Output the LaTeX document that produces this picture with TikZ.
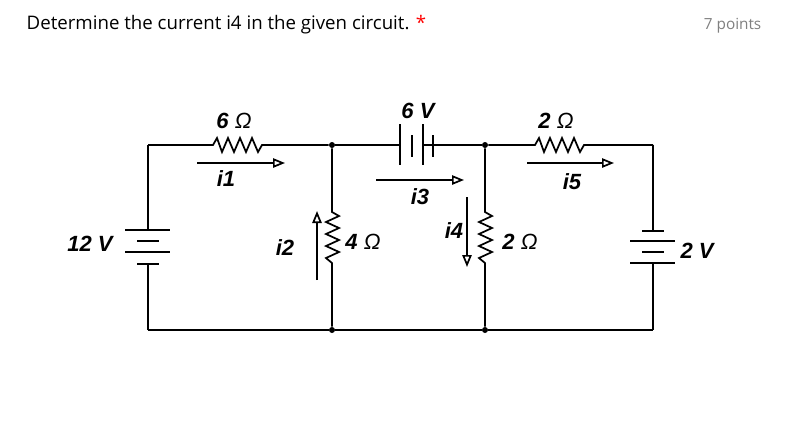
\documentclass[tikz,border=0pt]{standalone}
\usepackage{fontspec}
\setmainfont{Liberation Sans}
\newfontfamily\titlefont{Open Sans}
\usetikzlibrary{arrows.meta}
\tikzstyle{wire}=[line width=1.3pt]
\tikzstyle{lbl}=[font=\bfseries\itshape\fontsize{16.5}{16}\selectfont,inner sep=0pt]
\tikzstyle{cur}=[line width=1.3pt,-{Triangle[open,length=9pt,width=7pt]}]
\tikzstyle{dot}=[circle,fill=black,inner sep=0pt,minimum size=4.5pt]

\begin{document}
\begin{tikzpicture}[x=0.75pt,y=-0.75pt]
    \useasboundingbox[fill=white] (0,0) rectangle (806,430);
    \node (title)[anchor=west,font=\titlefont\fontsize{14}{14}\selectfont] at (22,25) {Determine the current i4 in the given circuit. \textcolor{red}{*}};
    \node (pts)[anchor=east,text=gray,font=\titlefont\fontsize{11.5}{12}\selectfont] at (766,26) {7 points};
    % corners and junctions
    \coordinate (tl) at (148,145);
    \coordinate (bl) at (148,330);
    \coordinate (tr) at (653,145);
    \coordinate (br) at (653,330);
    \node (ja)[dot] at (332,145) {};
    \node (jb)[dot] at (485,145) {};
    \node (jc)[dot] at (332,330) {};
    \node (jd)[dot] at (485,330) {};
    % top wire with 6 ohm, 6 V, 2 ohm
    \draw[wire] (tl) -- (213,145) -- (217,138) -- (222,152) -- (228,138) -- (234,152) -- (240,138) -- (246,152) -- (252,138) -- (258,152) -- (262,145) -- (ja);
    \draw[wire] (ja) -- (400,145) (423,145) -- (433,145);
    \draw[wire] (433,145) -- (jb);
    \draw[wire] (400,124) -- (400,165) (412,135) -- (412,157) (423,124) -- (423,165) (433,135) -- (433,157);
    \draw[wire] (jb) -- (535,145) -- (539,138) -- (544,152) -- (550,138) -- (556,152) -- (562,138) -- (568,152) -- (574,138) -- (580,152) -- (584,145) -- (tr);
    % bottom wire
    \draw[wire] (bl) -- (jc) -- (jd) -- (br);
    % left source 12 V
    \draw[wire] (tl) -- (148,230) (bl) -- (148,264);
    \draw[wire] (125,230) -- (170,230) (137,241) -- (159,241) (125,252) -- (170,252) (137,264) -- (159,264);
    % right source 2 V
    \draw[wire] (tr) -- (653,231) (br) -- (653,263);
    \draw[wire] (642,231) -- (664,231) (630,241) -- (675,241) (642,252) -- (664,252) (630,263) -- (675,263);
    % middle branches
    \draw[wire] (ja) -- (332,212) -- (339,216) -- (326,222) -- (339,228) -- (326,234) -- (339,240) -- (326,246) -- (339,252) -- (326,258) -- (332,263) -- (jc);
    \draw[wire] (jb) -- (485,212) -- (492,216) -- (479,222) -- (492,228) -- (479,234) -- (492,240) -- (479,246) -- (492,252) -- (479,258) -- (485,263) -- (jd);
    % currents
    \draw[cur] (197,163) -- (285,163);
    \draw[cur] (376,180) -- (464,180);
    \draw[cur] (527,163) -- (614,163);
    \draw[cur] (317,280) -- (317,211);
    \draw[cur] (467,197) -- (467,267);
    % labels
    \node (l12)[lbl] at (90,244) {12 V};
    \node (l2v)[lbl] at (697,251) {2 V};
    \node (r6)[lbl] at (234,121) {6 \textmd{\textit{Ω}}};
    \node (v6)[lbl] at (418,111) {6 V};
    \node (r2a)[lbl] at (556,121) {2 \textmd{\textit{Ω}}};
    \node (r4)[lbl] at (363,242) {4 \textmd{\textit{Ω}}};
    \node (r2b)[lbl] at (520,242) {2 \textmd{\textit{Ω}}};
    \node (c1)[lbl] at (226,179) {i1};
    \node (c3)[lbl] at (420,197) {i3};
    \node (c5)[lbl] at (572,182) {i5};
    \node (c2)[lbl] at (285,248) {i2};
    \node (c4)[lbl] at (454,231) {i4};
\end{tikzpicture}
\end{document}
